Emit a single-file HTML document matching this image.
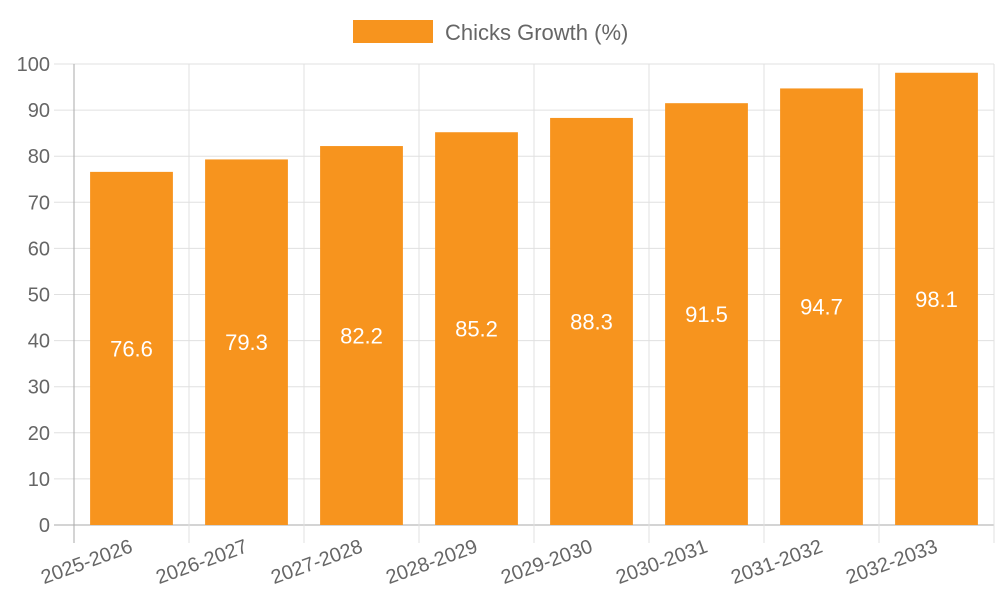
<!DOCTYPE html>
<html><head><meta charset="utf-8"><style>
body{margin:0;background:#fff;}
svg{display:block;font-family:"Liberation Sans",sans-serif;}
</style></head><body>
<svg id="chart" width="1000" height="600">
<g id="grid"></g><g id="bars"></g><g id="axes"></g>
<g>
<rect x="353" y="20" width="80" height="23" fill="#f7941e"/>
<text x="445" y="40" font-size="22" fill="#666">Chicks Growth (%)</text>
</g>
</svg>
<script>
const categories=["2025-2026","2026-2027","2027-2028","2028-2029","2029-2030","2030-2031","2031-2032","2032-2033"];
const values=[76.6,79.3,82.2,85.2,88.3,91.5,94.7,98.1];
const yTicks=[0,10,20,30,40,50,60,70,80,90,100];
const NS="http://www.w3.org/2000/svg";
const L=74,R=994,T=64,B=525;
const bw=(R-L)/categories.length;
function y(v){return B-(v/100)*(B-T);}
function x(i){return L+bw*i;}
function mk(tag,attrs,parent){const e=document.createElementNS(NS,tag);for(const k in attrs)e.setAttribute(k,attrs[k]);parent.appendChild(e);return e;}
const grid=document.getElementById('grid'),bars=document.getElementById('bars'),axes=document.getElementById('axes');
yTicks.forEach(t=>{
 const ln=mk('line',{x1:54,x2:R,y1:y(t),y2:y(t),stroke:t===0?'#aaa':'#e0e0e0','stroke-width':1},grid);
 
 
 const tx=mk('text',{x:50,y:y(t)+7,'text-anchor':'end','font-size':20,fill:'#666'},axes);
 tx.textContent=t;
 
 
});
for(let i=0;i<=categories.length;i++){
 const ln=mk('line',{x1:x(i),x2:x(i),y1:T,y2:B+18,stroke:i===0?'#aaa':'#e0e0e0','stroke-width':1},grid);
 
 
}
categories.forEach((c,i)=>{
 const v=values[i];
 const bx=x(i)+bw*0.14,w=bw*0.72;
 const r=mk('rect',{x:bx,y:y(v),width:w,height:B-y(v),fill:'#f7941e'},bars);
 
 
 const vt=mk('text',{x:x(i)+bw/2,y:(y(v)+B)/2+8,'text-anchor':'middle','font-size':22,fill:'#fff'},bars);
 vt.textContent=v.toFixed(1);
 
 
 const cx=x(i)+bw/2;
 const lt=mk('text',{x:cx,y:552,'text-anchor':'end','font-size':20,fill:'#666',transform:'rotate(-20 '+cx+' 545)'},axes);
 lt.textContent=c;
 
 
});
</script>
</body></html>
